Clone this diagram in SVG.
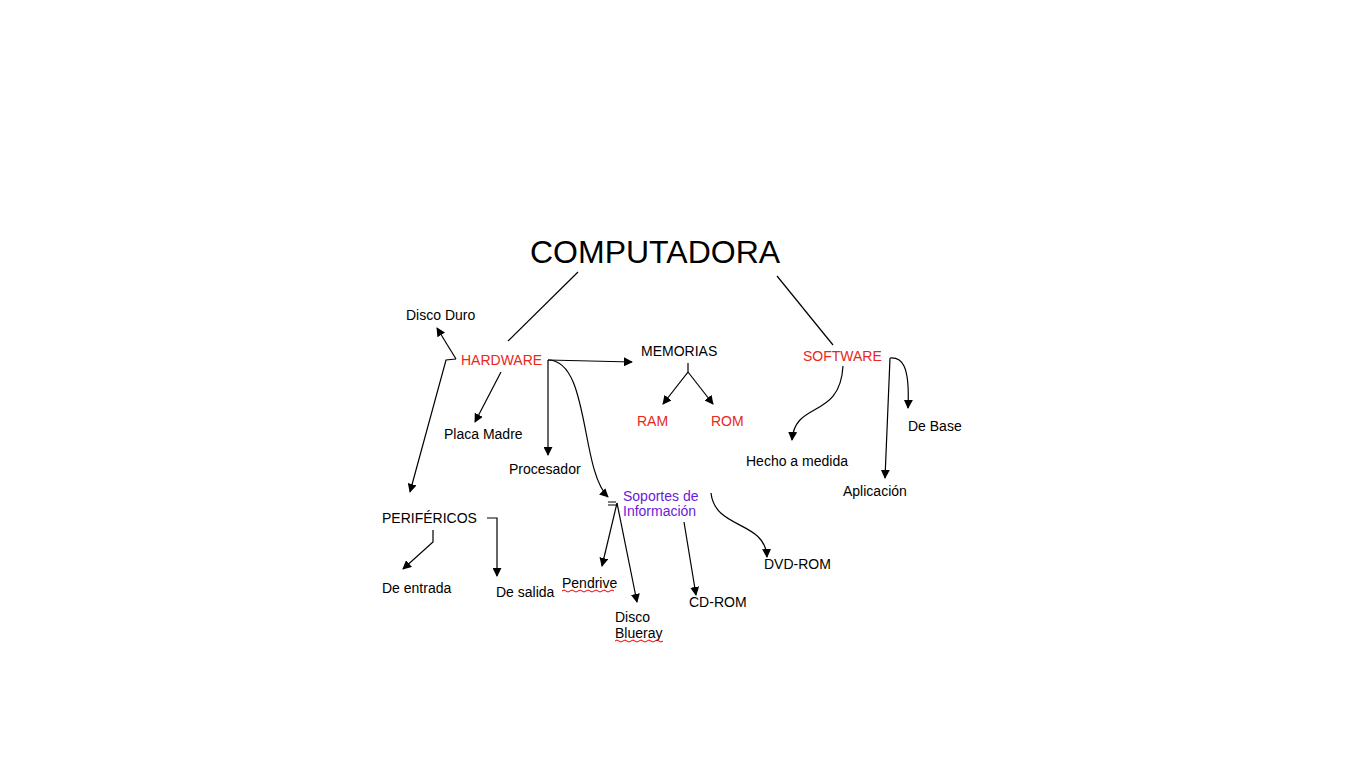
<svg xmlns="http://www.w3.org/2000/svg" width="1366" height="768" viewBox="0 0 1366 768">
<defs>
<marker id="ah" viewBox="0 0 10 10" refX="9" refY="5" markerWidth="9" markerHeight="9" markerUnits="userSpaceOnUse" orient="auto"><path d="M0,0 L10,5 L0,10 z" fill="#000"/></marker>
<style>
text{font-family:"Liberation Sans",Arial,sans-serif;font-size:14px;fill:#000}
.red{fill:#e8281a}.pur{fill:#6a1bd6}
.c path{fill:none;stroke:#000;stroke-width:1.2}
.a{marker-end:url(#ah)}
.sq{fill:none;stroke:#e00;stroke-width:1}
</style>
</defs>
<rect width="1366" height="768" fill="#fff"/>
<g class="c">
<path d="M578,272 L508,341"/>
<path d="M777,276 L833,345"/>
<path class="a" d="M456,359 L437,328"/>
<path class="a" d="M456,359 L446,360 L410,492"/>
<path class="a" d="M501,372 L475,422"/>
<path class="a" d="M548,360 L548,455"/>
<path class="a" d="M548,360 L632,362"/>
<path class="a" d="M548,360 C590,360 580,470 608,497"/>
<path class="a" d="M688,363 L688,372 L663,404"/>
<path class="a" d="M688,372 L713,404"/>
<path class="a" d="M890,358 C902,357 910,365 908,408"/>
<path class="a" d="M890,358 L885,478"/>
<path class="a" d="M843,366 C840,420 795,400 792,440"/>
<path d="M608,502 L616,502 M608,505 L616,505"/>
<path class="a" d="M617,503 L602,566"/>
<path class="a" d="M617,503 L637,602"/>
<path class="a" d="M684,522 L696,595"/>
<path class="a" d="M711,493 C715,530 765,520 767,557"/>
<path class="a" d="M433,530 L433,542 L403,569"/>
<path class="a" d="M487,518 L497,518 L497,576"/>
</g>
<g id="computadora"><text x="530" y="263" style="font-size:32px">COMPUTADORA</text></g>
<g id="hardware"><text x="461" y="365" class="red">HARDWARE</text></g>
<g id="software"><text x="803" y="361" class="red">SOFTWARE</text></g>
<g id="discoduro"><text x="406" y="320">Disco Duro</text></g>
<g id="memorias"><text x="641" y="356">MEMORIAS</text></g>
<g id="ram"><text x="637" y="426" class="red">RAM</text></g>
<g id="rom"><text x="711" y="426" class="red">ROM</text></g>
<g id="placa"><text x="444" y="439">Placa Madre</text></g>
<g id="procesador"><text x="509" y="474">Procesador</text></g>
<g id="soportes"><text x="623" y="501" class="pur">Soportes de</text><text x="623" y="516" class="pur">Información</text></g>
<g id="debase"><text x="908" y="431">De Base</text></g>
<g id="hecho"><text x="746" y="466">Hecho a medida</text></g>
<g id="aplicacion"><text x="843" y="496">Aplicación</text></g>
<g id="perifericos"><text x="382" y="523">PERIFÉRICOS</text></g>
<g id="deentrada"><text x="382" y="593">De entrada</text></g>
<g id="desalida"><text x="496" y="597">De salida</text></g>
<g id="pendrive"><text x="562" y="588">Pendrive</text><path class="sq" d="M562,591 q2,-2 4,0 t4,0 t4,0 t4,0 t4,0 t4,0 t4,0 t4,0 t4,0 t4,0 t4,0 t4,0 t4,0"/></g>
<g id="blueray"><text x="615" y="622">Disco</text><text x="615" y="638">Blueray</text><path class="sq" d="M615,641 q2,-2 4,0 t4,0 t4,0 t4,0 t4,0 t4,0 t4,0 t4,0 t4,0 t4,0 t4,0 t4,0"/></g>
<g id="cdrom"><text x="689" y="607">CD-ROM</text></g>
<g id="dvdrom"><text x="764" y="569">DVD-ROM</text></g>
</svg>
